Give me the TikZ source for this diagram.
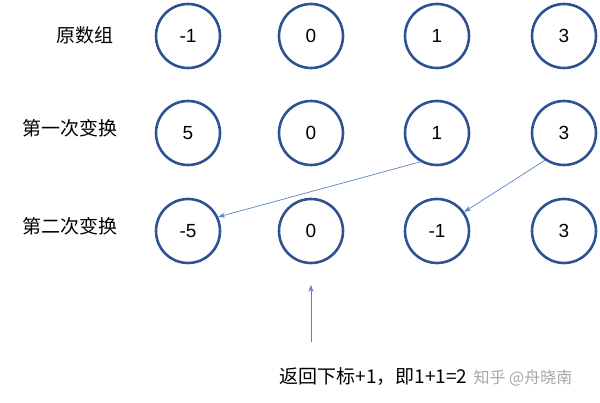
\documentclass[tikz,border=0pt]{standalone}
\usepackage{fontspec}
\setmainfont{Liberation Sans}
\newfontfamily\cjk{Noto Sans CJK SC}
\usetikzlibrary{arrows.meta,calc}
\begin{document}
\begin{tikzpicture}[x=1pt,y=-1pt,
  circ/.style={circle,draw=cblue,line width=2.6pt,minimum size=64pt,inner sep=0pt,font=\fontsize{19}{19}\selectfont},
  lab/.style={font=\cjk\fontsize{19}{19}\selectfont},
  arr/.style={draw=ablue,line width=0.7pt,-{Stealth[length=7pt,width=5pt]}}]
\definecolor{cblue}{HTML}{2F5293}
\definecolor{ablue}{HTML}{5A82C2}
\useasboundingbox (0,0) rectangle (600,403);
\node[lab] (l0) at (85,35) {原数组};
\node[lab] (l1) at (70,128) {第一次变换};
\node[lab] (l2) at (70,226) {第二次变换};
\foreach \x/\n [count=\i] in {188/{-1},311/0,437/1,564/3} \node[circ] (a\i) at (\x,36) {\n};
\foreach \x/\n [count=\i] in {188/5,311/0,437/1,564/3} \node[circ] (b\i) at (\x,133) {\n};
\foreach \x/\n [count=\i] in {188/{-5},311/0,437/{-1},564/3} \node[circ] (c\i) at (\x,231) {\n};
\draw[arr] (b3.-120) -- (c1.25);
\draw[arr] (b4.-125) -- (c3.35);
\coordinate (up) at (311,342);
\coordinate (uptip) at (311,285);
\draw[arr] (up) -- (uptip);
\node[lab,anchor=west] (t) at (276,377) {返回下标+1，即1+1=2};
\node[font=\cjk\fontsize{16}{16}\selectfont,text=black!35,anchor=west] (w) at (470,378) {知乎 @舟晓南};
\end{tikzpicture}
\end{document}
